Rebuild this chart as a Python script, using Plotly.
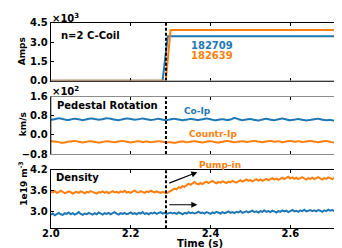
import numpy as np
import plotly.graph_objects as go

# ---------------- data ----------------
shot_blue = "182709"
shot_orange = "182639"

coil_t_blue = [2.0, 2.280, 2.293, 2.75]
coil_blue = [0.0, 0.0, 3.44, 3.44]          # x1e3 Amps
coil_t_orange = [2.0, 2.288, 2.300, 2.75]
coil_orange = [0.0, 0.0, 3.93, 3.93]

rot_blue = [
    0.64, 0.66, 0.70, 0.67, 0.63, 0.65, 0.68, 0.66, 0.62, 0.66,
    0.69, 0.67, 0.64, 0.66, 0.70, 0.68, 0.64, 0.62, 0.66, 0.69,
    0.67, 0.64, 0.66, 0.69, 0.66, 0.63, 0.65, 0.68, 0.64, 0.62,
    0.66, 0.68, 0.65, 0.62, 0.64, 0.67, 0.65, 0.63, 0.66, 0.69,
    0.66, 0.62, 0.64, 0.66, 0.63, 0.65, 0.71, 0.66, 0.62, 0.65,
    0.67, 0.63, 0.61, 0.65, 0.68, 0.64, 0.62, 0.66, 0.69, 0.65,
    0.62, 0.64, 0.67, 0.64, 0.61, 0.63, 0.66, 0.68, 0.64, 0.62,
    0.63, 0.61, 0.64, 0.66, 0.63, 0.61]   # x1e2 km/s
rot_orange = [
    -0.26, -0.27, -0.30, -0.33, -0.29, -0.27, -0.25, -0.28, -0.31, -0.28,
    -0.26, -0.28, -0.32, -0.29, -0.26, -0.28, -0.30, -0.27, -0.25, -0.28,
    -0.31, -0.28, -0.26, -0.29, -0.27, -0.30, -0.28, -0.26, -0.28, -0.31,
    -0.30, -0.33, -0.29, -0.27, -0.30, -0.28, -0.26, -0.29, -0.31, -0.28,
    -0.26, -0.29, -0.32, -0.28, -0.25, -0.27, -0.30, -0.28, -0.26, -0.29,
    -0.27, -0.25, -0.28, -0.30, -0.27, -0.25, -0.28, -0.26, -0.30, -0.27,
    -0.25, -0.28, -0.26, -0.29, -0.27, -0.25, -0.28, -0.30, -0.27, -0.25,
    -0.29, -0.32, -0.28, -0.26, -0.27, -0.25]
rot_t = 2.0 + 0.01 * np.arange(len(rot_blue))

dens_orange = [
    3.57, 3.55, 3.59, 3.54, 3.56, 3.60, 3.57, 3.53, 3.55, 3.58,
    3.56, 3.52, 3.55, 3.57, 3.54, 3.58, 3.56, 3.53, 3.57, 3.55,
    3.59, 3.56, 3.54, 3.52, 3.56, 3.55, 3.58, 3.54, 3.57, 3.53,
    3.56, 3.59, 3.55, 3.57, 3.54, 3.58, 3.56, 3.60, 3.55, 3.57,
    3.54, 3.58, 3.61, 3.56, 3.55, 3.59, 3.57, 3.54, 3.58, 3.56,
    3.60, 3.57, 3.55, 3.58, 3.56, 3.54, 3.57, 3.55, 3.53, 3.56,
    3.60, 3.62, 3.66, 3.64, 3.70, 3.68, 3.73, 3.71, 3.76, 3.80,
    3.77, 3.82, 3.85, 3.80, 3.78, 3.82, 3.79, 3.83, 3.86, 3.82,
    3.85, 3.88, 3.84, 3.81, 3.85, 3.83, 3.87, 3.84, 3.82, 3.86,
    3.84, 3.88, 3.85, 3.83, 3.87, 3.90, 3.86, 3.89, 3.92, 3.88,
    3.91, 3.87, 3.90, 3.93, 3.89, 3.92, 3.88, 3.91, 3.94, 3.90,
    3.93, 3.96, 3.92, 3.95, 3.91, 3.94, 3.97, 3.93, 3.96, 4.00,
    3.95, 3.98, 3.94, 3.97, 3.93, 3.96, 3.99, 3.95, 3.92, 3.96,
    3.94, 3.97, 3.93, 3.96, 3.99, 3.95, 3.92, 3.96, 3.94, 3.98,
    3.95, 3.93, 3.97, 4.00, 3.96, 3.94, 3.98, 4.01, 3.97, 3.99,
    4.00]
dens_blue = [
    2.92, 2.95, 2.90, 2.94, 2.97, 2.93, 2.91, 2.96, 2.94, 2.98,
    2.93, 2.96, 2.92, 2.95, 2.99, 2.94, 2.91, 2.95, 2.93, 2.97,
    2.94, 2.92, 2.96, 2.93, 2.98, 2.95, 2.92, 2.96, 2.94, 2.97,
    2.93, 2.96, 2.99, 2.95, 2.92, 2.96, 2.94, 2.97, 2.93, 2.95,
    2.98, 2.94, 2.96, 2.93, 2.97, 2.95, 2.99, 2.94, 2.96, 2.93,
    2.97, 2.95, 2.98, 2.94, 2.96, 2.99, 2.95, 2.97, 2.94, 2.96,
    2.98, 2.95, 2.97, 2.94, 2.98, 2.96, 2.93, 2.97, 2.95, 2.99,
    2.96, 2.98, 2.95, 2.97, 3.00, 2.96, 2.98, 2.95, 2.99, 2.97,
    2.94, 2.98, 2.96, 3.00, 2.97, 2.95, 2.99, 2.96, 2.98, 3.01,
    2.97, 2.99, 2.96, 3.00, 2.98, 3.02, 2.97, 2.99, 3.01, 2.98,
    3.00, 3.03, 2.99, 3.01, 2.98, 3.02, 3.00, 3.04, 3.00, 3.02,
    2.99, 3.03, 3.01, 2.98, 3.02, 3.00, 3.04, 3.01, 3.03, 2.99,
    3.02, 3.05, 3.01, 3.03, 3.00, 3.04, 3.02, 3.06, 3.01, 3.03,
    3.05, 3.02, 3.04, 3.01, 3.05, 3.03, 3.00, 3.04, 3.02, 3.06,
    3.03, 3.05, 3.02, 3.06, 3.04, 3.01, 3.05, 3.03, 3.07, 3.04,
    3.05]
dens_t = 2.0 + 0.005 * np.arange(len(dens_orange))

t_dashed = 2.2885
t_red = 2.717
x_range = [2.0, 2.747]
x_ticks = [2.0, 2.2, 2.4, 2.6]
x_ticklabels = ["2.0", "2.2", "2.4", "2.6"]
y1_ticks = [0.0, 1.5, 3.0, 4.5]
y1_labels = ["0.0", "1.5", "3.0", "4.5"]
y2_ticks = [-0.8, 0.0, 0.8, 1.6]
y2_labels = ["\u22120.8", "0.0", "0.8", "1.6"]
y3_ticks = [3.0, 3.6, 4.2]
y3_labels = ["3.0", "3.6", "4.2"]

# ---------------- figure ----------------
BLUE = "#1f77b4"
ORANGE = "#ff7f0e"
FONT = "DejaVu Sans"
W, H = 342, 248

def py(px):
    return 1 - px / H

xdom = [34.7 / W, 341 / W]
ydoms = [[py(70.7), py(10)], [py(147), py(87.3)], [py(224.3), py(163.3)]]

fig = go.Figure()
lw = 2
fig.add_trace(go.Scatter(x=coil_t_blue, y=coil_blue, mode="lines", line=dict(color=BLUE, width=lw), xaxis="x", yaxis="y"))
fig.add_trace(go.Scatter(x=coil_t_orange, y=coil_orange, mode="lines", line=dict(color=ORANGE, width=lw), xaxis="x", yaxis="y"))
fig.add_trace(go.Scatter(x=rot_t, y=rot_blue, mode="lines", line=dict(color=BLUE, width=lw, shape="spline"), xaxis="x2", yaxis="y2"))
fig.add_trace(go.Scatter(x=rot_t, y=rot_orange, mode="lines", line=dict(color=ORANGE, width=lw, shape="spline"), xaxis="x2", yaxis="y2"))
fig.add_trace(go.Scatter(x=dens_t, y=dens_orange, mode="lines", line=dict(color=ORANGE, width=lw), xaxis="x3", yaxis="y3"))
fig.add_trace(go.Scatter(x=dens_t, y=dens_blue, mode="lines", line=dict(color=BLUE, width=lw), xaxis="x3", yaxis="y3"))

tickfont = dict(family=FONT, size=10, color="black", weight="bold")
yranges = [[0, 4.5], [-0.8, 1.6], [2.53, 4.2]]
yticks = [(y1_ticks, y1_labels), (y2_ticks, y2_labels), (y3_ticks, y3_labels)]
linecolors = ["black", "#8c8c8c", "black"]
layout = dict(
    width=W, height=H, margin=dict(l=0, r=0, t=0, b=0),
    paper_bgcolor="white", plot_bgcolor="white", showlegend=False,
)
for i in range(3):
    sx = "" if i == 0 else str(i + 1)
    layout["xaxis" + sx] = dict(
        domain=xdom, range=x_range, anchor="y" + sx,
        tickvals=x_ticks, ticktext=x_ticklabels, showticklabels=(i == 2),
        ticks="inside", ticklen=3, tickcolor="black", tickfont=tickfont,
        showline=True, linecolor=linecolors[i], linewidth=1, mirror="ticks",
        showgrid=False, zeroline=False, ticklabelstandoff=-4,
    )
    if i > 0:
        layout["xaxis" + sx]["matches"] = "x"
    layout["yaxis" + sx] = dict(
        domain=ydoms[i], range=yranges[i], anchor="x" + sx,
        tickvals=yticks[i][0], ticktext=yticks[i][1],
        ticks="inside", ticklen=3, tickcolor="black", tickfont=tickfont,
        showline=True, linecolor=linecolors[i], linewidth=1, mirror="ticks",
        showgrid=False, zeroline=False, ticklabelstandoff=0,
    )
fig.update_layout(**layout)

shapes = []
for i in range(3):
    sx = "" if i == 0 else str(i + 1)
    shapes.append(dict(type="line", xref="x" + sx, yref="y" + sx + " domain",
                       x0=t_dashed, x1=t_dashed, y0=0, y1=1,
                       line=dict(color="black", width=2, dash="3px,2px")))
    shapes.append(dict(type="line", xref="x" + sx, yref="y" + sx + " domain",
                       x0=t_red, x1=t_red, y0=0, y1=1,
                       line=dict(color="#ff3b3b", width=1.2)))
# spine colour details
shapes.append(dict(type="line", xref="x domain", yref="y domain", x0=0, x1=1, y0=0, y1=0,
                   line=dict(color="#9a9a9a", width=1)))
shapes.append(dict(type="line", xref="x2 domain", yref="y2 domain", x0=0, x1=0, y0=0, y1=1,
                   line=dict(color="black", width=1)))
fig.update_layout(shapes=shapes)

def ann(text, x, y, color="black", size=10, xanchor="left", yanchor="middle", textangle=0, xref="paper", yref="paper"):
    return dict(text=text, x=x, y=y, xref=xref, yref=yref, showarrow=False,
                xanchor=xanchor, yanchor=yanchor, textangle=textangle,
                font=dict(family=FONT, size=size, color=color, weight="bold"))

def px_x(p):
    return p / W

annots = [
    ann("×10<sup>3</sup>", px_x(34), py(5), size=10),
    ann("×10<sup>2</sup>", px_x(34), py(81), size=10),
    ann("n=2 C-Coil", px_x(43), py(23), size=10),
    ann(shot_blue, px_x(177), py(34), color=BLUE, size=10),
    ann(shot_orange, px_x(177), py(44), color=ORANGE, size=10),
    ann("Pedestal Rotation", px_x(39), py(96), size=10),
    ann("Co-Ip", px_x(169), py(102), color=BLUE, size=9),
    ann("Countr-Ip", px_x(175), py(126), color=ORANGE, size=9),
    ann("Density", px_x(38), py(171), size=10),
    ann("Pump-in", px_x(185), py(158), color=ORANGE, size=9),
    ann("Amps", px_x(6), py(40), size=9, xanchor="center", textangle=-90),
    ann("km/s", px_x(6), py(116), size=9, xanchor="center", textangle=-90),
    ann("1e19 m<sup>-3</sup>", px_x(6), py(178), size=9, xanchor="center", textangle=-90),
    ann("Time (s)", px_x(188), py(240), size=10, xanchor="center"),
]
# arrows (panel 3)
annots.append(dict(x=2.367, y=4.13, ax=2.293, ay=3.80, xref="x3", yref="y3", axref="x3", ayref="y3",
                   showarrow=True, arrowhead=2, arrowsize=1, arrowwidth=1.2, arrowcolor="black", text=""))
annots.append(dict(x=2.367, y=3.20, ax=2.293, ay=3.20, xref="x3", yref="y3", axref="x3", ayref="y3",
                   showarrow=True, arrowhead=2, arrowsize=1, arrowwidth=1.2, arrowcolor="black", text=""))
fig.update_layout(annotations=annots)

fig.write_html("out.html")
